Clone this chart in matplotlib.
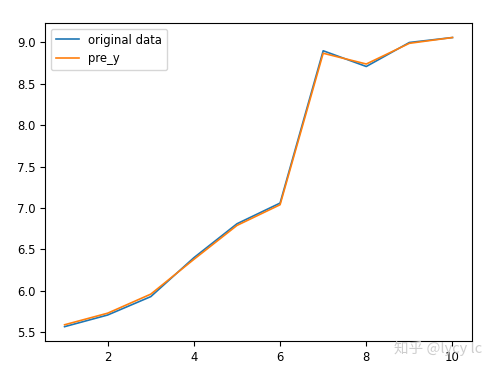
import matplotlib.pyplot as plt

x = [1, 2, 3, 4, 5, 6, 7, 8, 9, 10]
original = [5.567, 5.708, 5.93, 6.40, 6.81, 7.06, 8.90, 8.71, 9.00, 9.06]
pre_y = [5.59, 5.73, 5.96, 6.38, 6.79, 7.04, 8.87, 8.74, 8.99, 9.06]

plt.rcParams['font.size'] = 8.4

fig = plt.figure(figsize=(5.02, 3.72), dpi=100)
ax = fig.add_axes([0.09, 0.083, 0.85, 0.855])

ax.plot(x, original, color='#1f77b4', lw=1.2, label='original data')
ax.plot(x, pre_y, color='#ff7f0e', lw=1.2, label='pre_y')
ax.legend(loc='upper left')

for s in ax.spines.values():
    s.set_linewidth(0.8)

# watermark
fig.text(0.785, 0.063, '知乎 @lycy lc', fontsize=10.5, color='#c8c8c8',
         family=['Noto Sans CJK SC', 'DejaVu Sans'], va='center', alpha=0.9)

fig.savefig('out.png', dpi=100)
